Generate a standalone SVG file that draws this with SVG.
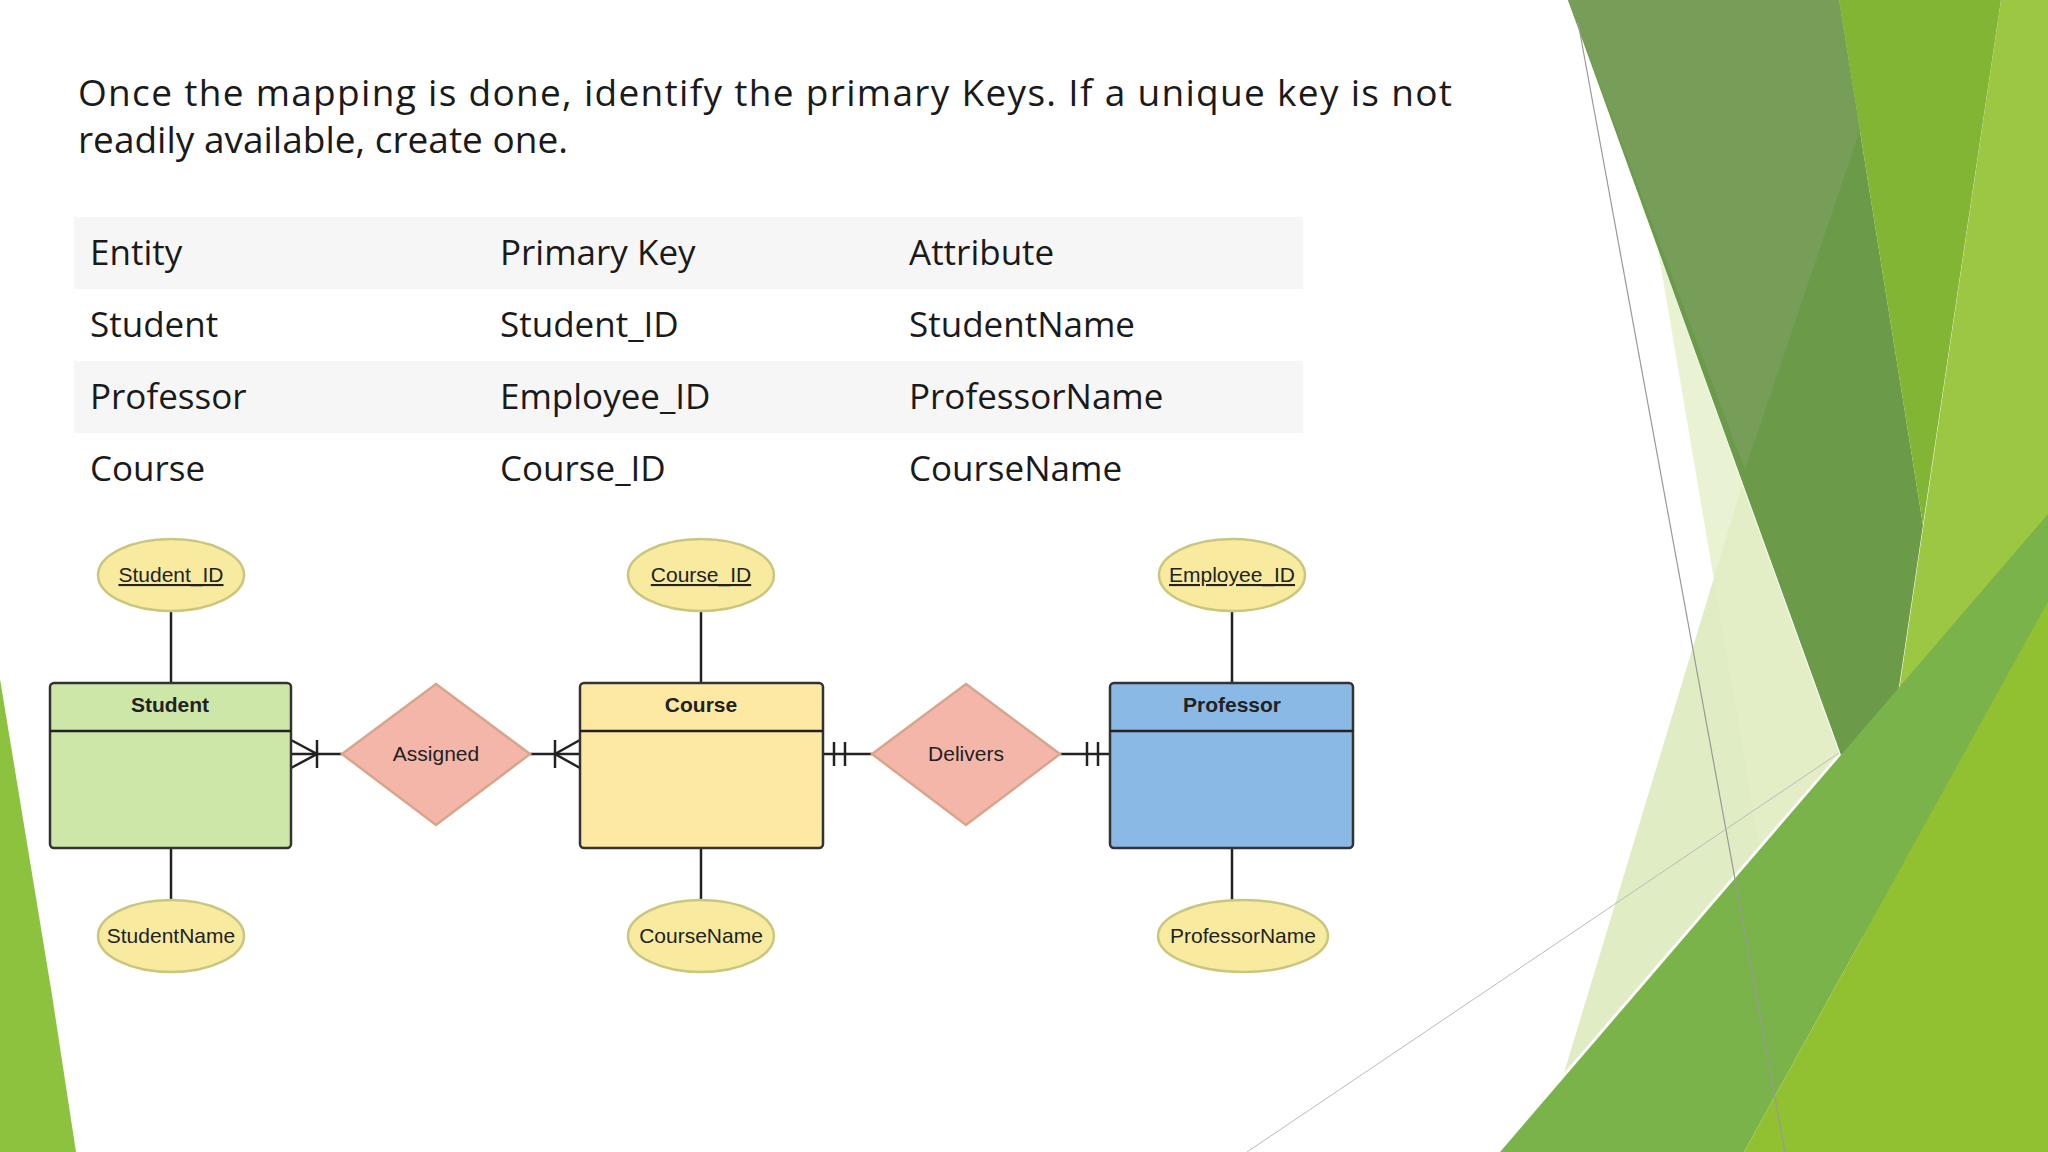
<svg xmlns="http://www.w3.org/2000/svg" width="2048" height="1152" viewBox="0 0 2048 1152">
<defs>
<style>
.t{font-family:"Open Sans","Noto Sans",sans-serif;fill:#1a1a1a}
.er{font-family:"Liberation Sans",Arial,sans-serif;font-size:21px;fill:#222;text-anchor:middle}
.attr{fill:#f8eba0;stroke:#c9c77e;stroke-width:2.5}
.ent{stroke:#333;stroke-width:2.5}
.rel{fill:#f5b6aa;stroke:#d8a58c;stroke-width:2.5}
.ln{stroke:#222;stroke-width:2.5;fill:none}
</style>
</defs>
<rect width="2048" height="1152" fill="#fff"/>
<g id="decor">
<polygon points="0,679 52,995 76,1152 0,1152" fill="#8dc23e"/>
<polygon points="1564,1073 1742,485 1839,753" fill="#d4e6b0" opacity="0.75"/>
<polygon points="1658,250 1839,753 1759,845" fill="#e3efc8" opacity="0.8"/>
<polygon points="1568,0 1839,0 1923,525 1875,849" fill="#6b9a48"/>
<polygon points="1568,0 1839,0 1860,130 1745,470" fill="#769e58"/>
<polygon points="1839,0 2001,0 1923,525" fill="#82b533"/>
<polygon points="2001,0 2048,0 2048,1152 1831,1152" fill="#9bc742"/>
<polygon points="1500,1152 2048,514 2048,602 1744,1152" fill="#7bb34b"/>
<polygon points="1744,1152 2048,602 2048,1152" fill="#91c030"/>
<line x1="1578" y1="22" x2="1785" y2="1152" stroke="#999" stroke-width="1.2"/>
<line x1="1247" y1="1152" x2="1839" y2="753" stroke="#bbb" stroke-width="1"/>
</g>
<g id="title">
<text class="t" x="78" y="106" font-size="37" textLength="1374" lengthAdjust="spacing">Once the mapping is done, identify the primary Keys. If a unique key is not</text>
<text class="t" x="78" y="153" font-size="37">readily available, create one.</text>
</g>
<g id="table">
<rect x="74" y="217" width="1229" height="72" fill="#f6f6f6"/>
<rect x="74" y="361" width="1229" height="72" fill="#f6f6f6"/>
<g class="t" font-size="35">
<text x="90" y="265">Entity</text><text x="500" y="265">Primary Key</text><text x="909" y="265">Attribute</text>
<text x="90" y="337">Student</text><text x="500" y="337">Student_ID</text><text x="909" y="337">StudentName</text>
<text x="90" y="409">Professor</text><text x="500" y="409">Employee_ID</text><text x="909" y="409">ProfessorName</text>
<text x="90" y="481">Course</text><text x="500" y="481">Course_ID</text><text x="909" y="481">CourseName</text>
</g>
</g>
<g id="connectors" class="ln">
<line x1="171" y1="611" x2="171" y2="683"/><line x1="701" y1="611" x2="701" y2="683"/><line x1="1232" y1="611" x2="1232" y2="683"/>
<line x1="171" y1="848" x2="171" y2="900"/><line x1="701" y1="848" x2="701" y2="900"/><line x1="1232" y1="848" x2="1232" y2="900"/>
<line x1="291" y1="754" x2="342" y2="754"/><path d="M291,740 L317,754 L291,768"/><line x1="317" y1="740" x2="317" y2="768"/>
<line x1="530" y1="754" x2="580" y2="754"/><path d="M580,740 L555,754 L580,768"/><line x1="555" y1="740" x2="555" y2="768"/>
<line x1="823" y1="754" x2="872" y2="754"/><line x1="834" y1="742" x2="834" y2="766"/><line x1="845" y1="742" x2="845" y2="766"/>
<line x1="1060" y1="754" x2="1110" y2="754"/><line x1="1087" y1="742" x2="1087" y2="766"/><line x1="1098" y1="742" x2="1098" y2="766"/>
</g>
<g id="student"><rect class="ent" x="50" y="683" width="241" height="165" rx="4" fill="#cde7a9"/><line class="ln" x1="50" y1="731" x2="291" y2="731"/><text class="er" x="170" y="712" font-weight="bold">Student</text></g>
<g id="course"><rect class="ent" x="580" y="683" width="243" height="165" rx="4" fill="#fde9a3"/><line class="ln" x1="580" y1="731" x2="823" y2="731"/><text class="er" x="701" y="712" font-weight="bold">Course</text></g>
<g id="professor"><rect class="ent" x="1110" y="683" width="243" height="165" rx="4" fill="#8bb9e6"/><line class="ln" x1="1110" y1="731" x2="1353" y2="731"/><text class="er" x="1232" y="712" font-weight="bold">Professor</text></g>
<g id="assigned"><polygon class="rel" points="436,684 530,754 436,825 342,754"/><text class="er" x="436" y="761">Assigned</text></g>
<g id="delivers"><polygon class="rel" points="966,684 1060,754 966,825 872,754"/><text class="er" x="966" y="761">Delivers</text></g>
<g id="student_id"><ellipse class="attr" cx="171" cy="575" rx="73" ry="36"/><text class="er" x="171" y="582" text-decoration="underline">Student_ID</text></g>
<g id="course_id"><ellipse class="attr" cx="701" cy="575" rx="73" ry="36"/><text class="er" x="701" y="582" text-decoration="underline">Course_ID</text></g>
<g id="employee_id"><ellipse class="attr" cx="1232" cy="575" rx="73" ry="36"/><text class="er" x="1232" y="582" text-decoration="underline">Employee_ID</text></g>
<g id="studentname"><ellipse class="attr" cx="171" cy="936" rx="73" ry="36"/><text class="er" x="171" y="943">StudentName</text></g>
<g id="coursename"><ellipse class="attr" cx="701" cy="936" rx="73" ry="36"/><text class="er" x="701" y="943">CourseName</text></g>
<g id="professorname"><ellipse class="attr" cx="1243" cy="936" rx="85" ry="36"/><text class="er" x="1243" y="943">ProfessorName</text></g>
</svg>
